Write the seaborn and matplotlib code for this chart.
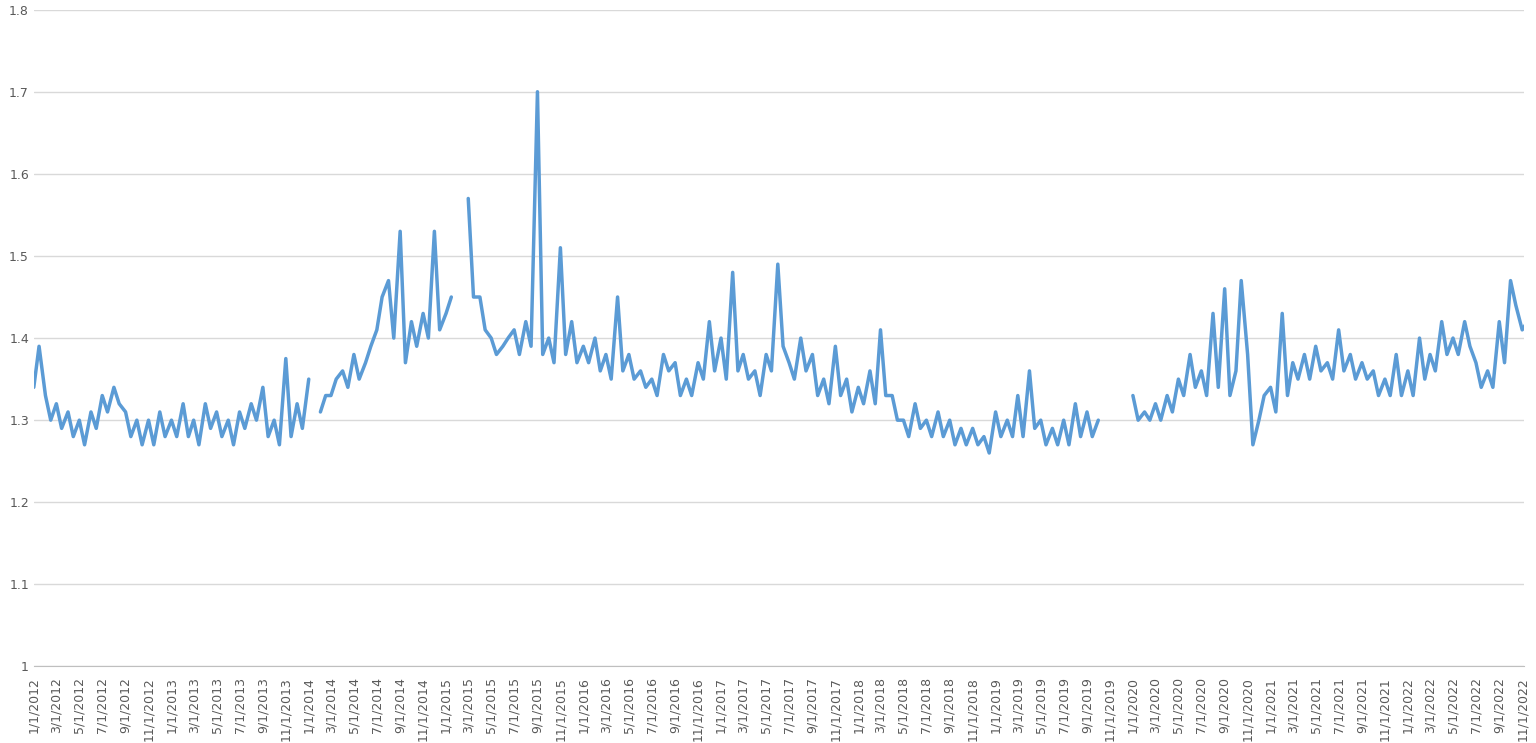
import numpy as np
import pandas as pd
import matplotlib
matplotlib.use("Agg")
import matplotlib.pyplot as plt
import seaborn as sns

nan = np.nan
# semi-monthly readings (1st and 16th of each month)
v2012 = [1.34,1.39,1.33,1.30,1.32,1.29,1.31,1.28,1.30,1.27,1.31,1.29,1.33,1.31,1.34,1.32,1.31,1.28,1.30,1.27,1.30,1.27,1.31,1.28]
v2013 = [1.30,1.28,1.32,1.28,1.30,1.27,1.32,1.29,1.31,1.28,1.30,1.27,1.31,1.29,1.32,1.30,1.34,1.28,1.30,1.27,1.375,1.28,1.32,1.29]
v2014 = [1.35,nan,1.31,1.33,1.33,1.35,1.36,1.34,1.38,1.35,1.37,1.39,1.41,1.45,1.47,1.40,1.53,1.37,1.42,1.39,1.43,1.40,1.53,1.41]
v2015 = [1.43,1.45,nan,nan,1.57,1.45,1.45,1.41,1.40,1.38,1.39,1.40,1.41,1.38,1.42,1.39,1.70,1.38,1.40,1.37,1.51,1.38,1.42,1.37]
v2016 = [1.39,1.37,1.40,1.36,1.38,1.35,1.45,1.36,1.38,1.35,1.36,1.34,1.35,1.33,1.38,1.36,1.37,1.33,1.35,1.33,1.37,1.35,1.42,1.36]
v2017 = [1.40,1.35,1.48,1.36,1.38,1.35,1.36,1.33,1.38,1.36,1.49,1.39,1.37,1.35,1.40,1.36,1.38,1.33,1.35,1.32,1.39,1.33,1.35,1.31]
v2018 = [1.34,1.32,1.36,1.32,1.41,1.33,1.33,1.30,1.30,1.28,1.32,1.29,1.30,1.28,1.31,1.28,1.30,1.27,1.29,1.27,1.29,1.27,1.28,1.26]
v2019 = [1.31,1.28,1.30,1.28,1.33,1.28,1.36,1.29,1.30,1.27,1.29,1.27,1.30,1.27,1.32,1.28,1.31,1.28,1.30,nan,nan,nan,nan,nan]
v2020 = [1.33,1.30,1.31,1.30,1.32,1.30,1.33,1.31,1.35,1.33,1.38,1.34,1.36,1.33,1.43,1.34,1.46,1.33,1.36,1.47,1.38,1.27,1.30,1.33]
v2021 = [1.34,1.31,1.43,1.33,1.37,1.35,1.38,1.35,1.39,1.36,1.37,1.35,1.41,1.36,1.38,1.35,1.37,1.35,1.36,1.33,1.35,1.33,1.38,1.33]
v2022 = [1.36,1.33,1.40,1.35,1.38,1.36,1.42,1.38,1.40,1.38,1.42,1.39,1.37,1.34,1.36,1.34,1.42,1.37,1.47,1.44,1.41,1.42]

values = v2012 + v2013 + v2014 + v2015 + v2016 + v2017 + v2018 + v2019 + v2020 + v2021 + v2022
dates = pd.date_range("2012-01-01", periods=len(values), freq="SMS")
df = pd.DataFrame({"date": dates, "value": values})

tick_dates = pd.date_range("2012-01-01", "2022-11-01", freq="2MS")
tick_labels = [f"{d.month}/{d.day}/{d.year}" for d in tick_dates]

sns.set_style("white")
fig, ax = plt.subplots(figsize=(15.36, 7.43), dpi=100)
ax.plot(df["date"], df["value"], color="#5B9BD5", linewidth=2.5)

ax.set_ylim(1, 1.8)
ax.set_yticks(np.arange(1, 1.81, 0.1))
ax.set_yticklabels(["1"] + [f"{y:.1f}" for y in np.arange(1.1, 1.81, 0.1)])
ax.yaxis.grid(True, color="#D9D9D9", linewidth=1)
ax.set_xlim(pd.Timestamp("2012-01-01"), pd.Timestamp("2022-11-05"))
ax.set_xticks(tick_dates)
ax.set_xticklabels(tick_labels, rotation=90)
ax.tick_params(axis="both", labelsize=9, colors="#595959", length=0)
ax.tick_params(axis="x", length=4, color="#BFBFBF")
for s in ["top", "right", "left"]:
    ax.spines[s].set_visible(False)
ax.spines["bottom"].set_color("#BFBFBF")

plt.subplots_adjust(left=0.022, right=0.992, top=0.987, bottom=0.103)
plt.savefig("out.png", dpi=100)
